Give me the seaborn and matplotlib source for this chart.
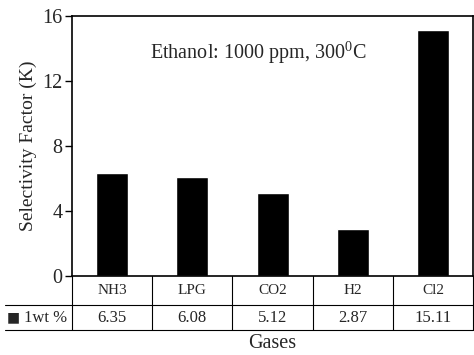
import matplotlib
matplotlib.use("Agg")
import matplotlib.pyplot as plt
import seaborn as sns
import pandas as pd

gases = ["NH3", "LPG", "CO2", "H2", "Cl2"]
selectivity = [6.35, 6.08, 5.12, 2.87, 15.11]
value_labels = ["6.35", "6.08", "5.12", "2.87", "15.11"]
series_name = "1wt %"
y_ticks = [0, 4, 8, 12, 16]

df = pd.DataFrame({"gas": gases, "K": selectivity})

sns.set_theme(style="white")
plt.rcParams["font.family"] = ["Liberation Serif", "DejaVu Serif"]
plt.rcParams["mathtext.fontset"] = "custom"
plt.rcParams["mathtext.rm"] = "Liberation Serif"

fig = plt.figure(figsize=(4.74, 3.55), dpi=100)
ax = fig.add_axes([0.152, 0.2225, 0.846, 0.7324])

sns.barplot(data=df, x="gas", y="K", color="black", width=0.4,
            saturation=1, ax=ax)

ax.set_xlim(-0.5, len(gases) - 0.5)
ax.set_ylim(0, 16)
ax.set_yticks(y_ticks)
ax.tick_params(axis="y", direction="out", length=5, width=1, color="black",
               labelsize=14.5, pad=2, left=True)
ax.set_xticks([])
ax.set_xlabel("")
ax.set_ylabel("Selectivity Factor (K)", fontsize=14, labelpad=4)
for s in ax.spines.values():
    s.set_color("black")
    s.set_linewidth(1.2)

ax.text(0.195, 0.858, "Ethanol: 1000 ppm, 300$^\\mathrm{0}$C", transform=ax.transAxes,
        fontsize=14.5, ha="left", va="center")

# data table under the axis
tr = ax.get_xaxis_transform()
row1 = -0.1115
row2 = -0.2077
left_x = -0.5 - (67 / 401) * len(gases)
lkw = dict(color="black", lw=0.8, transform=tr, clip_on=False)
ax.plot([left_x, len(gases) - 0.5], [row1, row1], **lkw)
ax.plot([left_x, len(gases) - 0.5], [row2, row2], **lkw)
for i in range(len(gases) + 1):
    ax.plot([i - 0.5, i - 0.5], [0, row2], **lkw)

for i, (g, v) in enumerate(zip(gases, value_labels)):
    ax.text(i, row1 / 2, g, transform=tr, ha="center", va="center", fontsize=11)
    ax.text(i, (row1 + row2) / 2, v, transform=tr, ha="center", va="center", fontsize=12)

ax.text(left_x + 0.02, (row1 + row2) / 2, "\u25a0", transform=tr,
        ha="left", va="center", fontsize=10, family=["DejaVu Sans"])
ax.text(left_x + 0.24, (row1 + row2) / 2, series_name, transform=tr,
        ha="left", va="center", fontsize=12)

ax.text(0.5, -0.258, "Gases", transform=ax.transAxes, ha="center", va="center",
        fontsize=14.5)

fig.savefig("out.png", dpi=100)
